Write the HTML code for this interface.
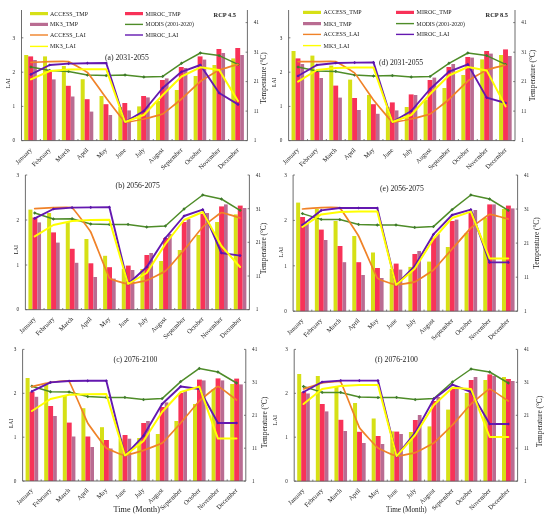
<!DOCTYPE html>
<html><head><meta charset="utf-8"><title>LAI and Temperature projections</title>
<style>
html,body{margin:0;padding:0;background:#fff;}
body{width:550px;height:520px;overflow:hidden;}
svg{display:block;font-family:"Liberation Serif",serif;fill:#222;}
.tk{font-size:5.2px;}
.mo{font-size:6.5px;}
.ti{font-size:7.7px;}
.al{font-size:7px;}
.at{font-size:7.3px;}
.lg{font-size:6px;}
.lg2{font-size:5.7px;}
.rcp{font-size:6.4px;font-weight:bold;}
.tm{font-size:8.2px;}
</style></head><body>
<svg width="550" height="520" viewBox="0 0 550 520">
<rect width="550" height="520" fill="#fff"/>
<g><rect x="24.21" y="55" width="4" height="85.6" fill="#d6e016"/>
<rect x="28.21" y="56.4" width="4.9" height="84.2" fill="#f83258"/>
<rect x="33.11" y="60" width="3.7" height="80.6" fill="#b96c92"/>
<rect x="43.04" y="56.4" width="4" height="84.2" fill="#d6e016"/>
<rect x="47.04" y="70" width="4.9" height="70.6" fill="#f83258"/>
<rect x="51.94" y="79.4" width="3.7" height="61.2" fill="#b96c92"/>
<rect x="61.86" y="66" width="4" height="74.6" fill="#d6e016"/>
<rect x="65.86" y="85.8" width="4.9" height="54.8" fill="#f83258"/>
<rect x="70.76" y="96.5" width="3.7" height="44.1" fill="#b96c92"/>
<rect x="80.69" y="79.2" width="4" height="61.4" fill="#d6e016"/>
<rect x="84.69" y="99.2" width="4.9" height="41.4" fill="#f83258"/>
<rect x="89.59" y="111.6" width="3.7" height="29" fill="#b96c92"/>
<rect x="99.51" y="96" width="4" height="44.6" fill="#d6e016"/>
<rect x="103.51" y="104.2" width="4.9" height="36.4" fill="#f83258"/>
<rect x="108.41" y="115" width="3.7" height="25.6" fill="#b96c92"/>
<rect x="118.34" y="107" width="4" height="33.6" fill="#d6e016"/>
<rect x="122.34" y="103" width="4.9" height="37.6" fill="#f83258"/>
<rect x="127.24" y="110.4" width="3.7" height="30.2" fill="#b96c92"/>
<rect x="137.16" y="106.4" width="4" height="34.2" fill="#d6e016"/>
<rect x="141.16" y="96" width="4.9" height="44.6" fill="#f83258"/>
<rect x="146.06" y="97.4" width="3.7" height="43.2" fill="#b96c92"/>
<rect x="155.99" y="101" width="4" height="39.6" fill="#d6e016"/>
<rect x="159.99" y="80" width="4.9" height="60.6" fill="#f83258"/>
<rect x="164.89" y="78.4" width="3.7" height="62.2" fill="#b96c92"/>
<rect x="174.81" y="90" width="4" height="50.6" fill="#d6e016"/>
<rect x="178.81" y="67" width="4.9" height="73.6" fill="#f83258"/>
<rect x="183.71" y="68" width="3.7" height="72.6" fill="#b96c92"/>
<rect x="193.64" y="76" width="4" height="64.6" fill="#d6e016"/>
<rect x="197.64" y="56.4" width="4.9" height="84.2" fill="#f83258"/>
<rect x="202.54" y="59.6" width="3.7" height="81" fill="#b96c92"/>
<rect x="212.46" y="65" width="4" height="75.6" fill="#d6e016"/>
<rect x="216.46" y="49" width="4.9" height="91.6" fill="#f83258"/>
<rect x="221.36" y="53" width="3.7" height="87.6" fill="#b96c92"/>
<rect x="231.29" y="58.4" width="4" height="82.2" fill="#d6e016"/>
<rect x="235.29" y="48" width="4.9" height="92.6" fill="#f83258"/>
<rect x="240.19" y="55" width="3.7" height="85.6" fill="#b96c92"/>
<path d="M21.5 10 V140.6 H247.4 V10" fill="none" stroke="#5c5c5c" stroke-width="0.9"/>
<path d="M21.5 140.6 h1.8M21.5 106.4 h1.8M21.5 72.2 h1.8M21.5 37.8 h1.8M247.4 140.6 h-1.8M247.4 111.1 h-1.8M247.4 81.6 h-1.8M247.4 52.2 h-1.8M247.4 22.6 h-1.8M40.33 140.6 v-1.6M59.15 140.6 v-1.6M77.97 140.6 v-1.6M96.8 140.6 v-1.6M115.62 140.6 v-1.6M134.45 140.6 v-1.6M153.28 140.6 v-1.6M172.1 140.6 v-1.6M190.92 140.6 v-1.6M209.75 140.6 v-1.6M228.57 140.6 v-1.6" fill="none" stroke="#5c5c5c" stroke-width="0.8"/>
<path d="M30.91 67 L49.74 70.4 L68.56 71.4 L87.39 75 L106.21 75.6 L125.04 75 L143.86 77 L162.69 76.4 L181.51 63.3 L200.34 53 L219.16 55.6 L237.99 64.4" fill="none" stroke="#4e8c28" stroke-width="1.5" stroke-linejoin="round" stroke-linecap="round"/>
<path d="M29.21 67 l1.7 -1.7 l1.7 1.7 l-1.7 1.7 zM48.04 70.4 l1.7 -1.7 l1.7 1.7 l-1.7 1.7 zM66.86 71.4 l1.7 -1.7 l1.7 1.7 l-1.7 1.7 zM85.69 75 l1.7 -1.7 l1.7 1.7 l-1.7 1.7 zM104.51 75.6 l1.7 -1.7 l1.7 1.7 l-1.7 1.7 zM123.34 75 l1.7 -1.7 l1.7 1.7 l-1.7 1.7 zM142.16 77 l1.7 -1.7 l1.7 1.7 l-1.7 1.7 zM160.99 76.4 l1.7 -1.7 l1.7 1.7 l-1.7 1.7 zM179.81 63.3 l1.7 -1.7 l1.7 1.7 l-1.7 1.7 zM198.64 53 l1.7 -1.7 l1.7 1.7 l-1.7 1.7 zM217.46 55.6 l1.7 -1.7 l1.7 1.7 l-1.7 1.7 zM236.29 64.4 l1.7 -1.7 l1.7 1.7 l-1.7 1.7 z" fill="#3f7a2c"/>
<path d="M30.91 62.4 C31.54 62.37 48.48 61.63 49.74 61.6 C50.99 61.57 67.31 61.24 68.56 61.6 C69.82 61.96 86.13 71.19 87.39 72.4 C88.64 73.61 104.96 96.35 106.21 98 C107.47 99.65 123.78 121.3 125.04 122 C126.29 122.7 142.61 119.27 143.86 119 C145.12 118.73 161.43 114.67 162.69 114 C163.94 113.33 180.26 100.08 181.51 99 C182.77 97.92 199.08 82.47 200.34 81.5 C201.59 80.53 217.91 70.57 219.16 70 C220.42 69.43 237.36 64.59 237.99 64.4" fill="none" stroke="#f08228" stroke-width="1.7" stroke-linejoin="round" stroke-linecap="round"/>
<path d="M30.91 74.4 L49.74 65 L68.56 63.6 L87.39 63.2 L106.21 63 L125.04 122 L143.86 111 L162.69 88 L181.51 71.8 L200.34 65 L219.16 93 L237.99 104.4" fill="none" stroke="#6418b0" stroke-width="1.9" stroke-linejoin="round" stroke-linecap="round"/>
<path d="M29.31 74.4 l1.6 -1.6 l1.6 1.6 l-1.6 1.6 zM48.14 65 l1.6 -1.6 l1.6 1.6 l-1.6 1.6 zM66.96 63.6 l1.6 -1.6 l1.6 1.6 l-1.6 1.6 zM85.79 63.2 l1.6 -1.6 l1.6 1.6 l-1.6 1.6 zM104.61 63 l1.6 -1.6 l1.6 1.6 l-1.6 1.6 zM123.44 122 l1.6 -1.6 l1.6 1.6 l-1.6 1.6 zM142.26 111 l1.6 -1.6 l1.6 1.6 l-1.6 1.6 zM161.09 88 l1.6 -1.6 l1.6 1.6 l-1.6 1.6 zM179.91 71.8 l1.6 -1.6 l1.6 1.6 l-1.6 1.6 zM198.74 65 l1.6 -1.6 l1.6 1.6 l-1.6 1.6 zM217.56 93 l1.6 -1.6 l1.6 1.6 l-1.6 1.6 zM236.39 104.4 l1.6 -1.6 l1.6 1.6 l-1.6 1.6 z" fill="#5a14a8"/>
<path d="M30.91 79.4 L49.74 71 L68.56 69.6 L87.39 69.2 L106.21 69.2 L125.04 122 L143.86 115 L162.69 95 L181.51 76.5 L200.34 67.3 L219.16 70 L237.99 101" fill="none" stroke="#ffff00" stroke-width="2.0" stroke-linejoin="round" stroke-linecap="round"/>
<text x="15.2" y="142.4" text-anchor="end" class="tk">0</text>
<text x="15.2" y="108.2" text-anchor="end" class="tk">1</text>
<text x="15.2" y="74" text-anchor="end" class="tk">2</text>
<text x="15.2" y="39.6" text-anchor="end" class="tk">3</text>
<text x="253.7" y="142.4" class="tk">1</text>
<text x="253.7" y="112.9" class="tk">11</text>
<text x="253.7" y="83.4" class="tk">21</text>
<text x="253.7" y="54" class="tk">31</text>
<text x="253.7" y="24.4" class="tk">41</text>
<text transform="translate(32.31 150.4) rotate(-45)" text-anchor="end" class="mo">January</text>
<text transform="translate(51.14 150.4) rotate(-45)" text-anchor="end" class="mo">February</text>
<text transform="translate(69.96 150.4) rotate(-45)" text-anchor="end" class="mo">March</text>
<text transform="translate(88.79 150.4) rotate(-45)" text-anchor="end" class="mo">April</text>
<text transform="translate(107.61 150.4) rotate(-45)" text-anchor="end" class="mo">May</text>
<text transform="translate(126.44 150.4) rotate(-45)" text-anchor="end" class="mo">June</text>
<text transform="translate(145.26 150.4) rotate(-45)" text-anchor="end" class="mo">July</text>
<text transform="translate(164.09 150.4) rotate(-45)" text-anchor="end" class="mo">August</text>
<text transform="translate(182.91 150.4) rotate(-45)" text-anchor="end" class="mo">September</text>
<text transform="translate(201.74 150.4) rotate(-45)" text-anchor="end" class="mo">October</text>
<text transform="translate(220.56 150.4) rotate(-45)" text-anchor="end" class="mo">November</text>
<text transform="translate(239.39 150.4) rotate(-45)" text-anchor="end" class="mo">December</text>
<text x="105" y="60.2" class="ti">(a) 2031-2055</text>
<text transform="translate(10.28 83.3) rotate(-90)" text-anchor="middle" class="al" style="font-size:6.3px">LAI</text>
<text transform="translate(265.7 78) rotate(-90)" text-anchor="middle" class="at">Temperature (°C)</text></g>
<g><rect x="291.53" y="51" width="4" height="89.6" fill="#d6e016"/>
<rect x="295.53" y="58.4" width="4.9" height="82.2" fill="#f83258"/>
<rect x="300.43" y="64" width="3.7" height="76.6" fill="#b96c92"/>
<rect x="310.4" y="55.6" width="4" height="85" fill="#d6e016"/>
<rect x="314.4" y="72" width="4.9" height="68.6" fill="#f83258"/>
<rect x="319.3" y="78" width="3.7" height="62.6" fill="#b96c92"/>
<rect x="329.27" y="65.6" width="4" height="75" fill="#d6e016"/>
<rect x="333.27" y="85.6" width="4.9" height="55" fill="#f83258"/>
<rect x="338.17" y="97.6" width="3.7" height="43" fill="#b96c92"/>
<rect x="348.13" y="79.6" width="4" height="61" fill="#d6e016"/>
<rect x="352.13" y="98" width="4.9" height="42.6" fill="#f83258"/>
<rect x="357.03" y="110" width="3.7" height="30.6" fill="#b96c92"/>
<rect x="367" y="95" width="4" height="45.6" fill="#d6e016"/>
<rect x="371" y="104.2" width="4.9" height="36.4" fill="#f83258"/>
<rect x="375.9" y="113.8" width="3.7" height="26.8" fill="#b96c92"/>
<rect x="385.87" y="107.3" width="4" height="33.3" fill="#d6e016"/>
<rect x="389.87" y="102.4" width="4.9" height="38.2" fill="#f83258"/>
<rect x="394.77" y="110.4" width="3.7" height="30.2" fill="#b96c92"/>
<rect x="404.73" y="107" width="4" height="33.6" fill="#d6e016"/>
<rect x="408.73" y="94.4" width="4.9" height="46.2" fill="#f83258"/>
<rect x="413.63" y="95" width="3.7" height="45.6" fill="#b96c92"/>
<rect x="423.6" y="100" width="4" height="40.6" fill="#d6e016"/>
<rect x="427.6" y="80" width="4.9" height="60.6" fill="#f83258"/>
<rect x="432.5" y="77.6" width="3.7" height="63" fill="#b96c92"/>
<rect x="442.47" y="88" width="4" height="52.6" fill="#d6e016"/>
<rect x="446.47" y="67" width="4.9" height="73.6" fill="#f83258"/>
<rect x="451.37" y="64" width="3.7" height="76.6" fill="#b96c92"/>
<rect x="461.33" y="75" width="4" height="65.6" fill="#d6e016"/>
<rect x="465.33" y="57" width="4.9" height="83.6" fill="#f83258"/>
<rect x="470.23" y="57.6" width="3.7" height="83" fill="#b96c92"/>
<rect x="480.2" y="59.4" width="4" height="81.2" fill="#d6e016"/>
<rect x="484.2" y="51" width="4.9" height="89.6" fill="#f83258"/>
<rect x="489.1" y="53.6" width="3.7" height="87" fill="#b96c92"/>
<rect x="499.07" y="55" width="4" height="85.6" fill="#d6e016"/>
<rect x="503.07" y="49.4" width="4.9" height="91.2" fill="#f83258"/>
<rect x="507.97" y="56" width="3.7" height="84.6" fill="#b96c92"/>
<path d="M288.6 10 V140.6 H515 V10" fill="none" stroke="#5c5c5c" stroke-width="0.9"/>
<path d="M288.6 140.6 h1.8M288.6 106.4 h1.8M288.6 72.2 h1.8M288.6 37.8 h1.8M515 140.6 h-1.8M515 111.1 h-1.8M515 81.6 h-1.8M515 52.2 h-1.8M515 22.6 h-1.8M307.47 140.6 v-1.6M326.33 140.6 v-1.6M345.2 140.6 v-1.6M364.07 140.6 v-1.6M382.93 140.6 v-1.6M401.8 140.6 v-1.6M420.67 140.6 v-1.6M439.53 140.6 v-1.6M458.4 140.6 v-1.6M477.27 140.6 v-1.6M496.13 140.6 v-1.6" fill="none" stroke="#5c5c5c" stroke-width="0.8"/>
<path d="M298.03 67 L316.9 71 L335.77 71.4 L354.63 75 L373.5 76 L392.37 75.6 L411.23 77 L430.1 76.4 L448.97 63.3 L467.83 53 L486.7 55.6 L505.57 64.4" fill="none" stroke="#4e8c28" stroke-width="1.5" stroke-linejoin="round" stroke-linecap="round"/>
<path d="M296.33 67 l1.7 -1.7 l1.7 1.7 l-1.7 1.7 zM315.2 71 l1.7 -1.7 l1.7 1.7 l-1.7 1.7 zM334.07 71.4 l1.7 -1.7 l1.7 1.7 l-1.7 1.7 zM352.93 75 l1.7 -1.7 l1.7 1.7 l-1.7 1.7 zM371.8 76 l1.7 -1.7 l1.7 1.7 l-1.7 1.7 zM390.67 75.6 l1.7 -1.7 l1.7 1.7 l-1.7 1.7 zM409.53 77 l1.7 -1.7 l1.7 1.7 l-1.7 1.7 zM428.4 76.4 l1.7 -1.7 l1.7 1.7 l-1.7 1.7 zM447.27 63.3 l1.7 -1.7 l1.7 1.7 l-1.7 1.7 zM466.13 53 l1.7 -1.7 l1.7 1.7 l-1.7 1.7 zM485 55.6 l1.7 -1.7 l1.7 1.7 l-1.7 1.7 zM503.87 64.4 l1.7 -1.7 l1.7 1.7 l-1.7 1.7 z" fill="#3f7a2c"/>
<path d="M298.03 61.6 C298.66 61.6 315.64 61.6 316.9 61.6 C318.16 61.6 334.51 61.22 335.77 61.6 C337.02 61.98 353.38 71.72 354.63 73 C355.89 74.28 372.24 98.37 373.5 100 C374.76 101.63 391.11 121.37 392.37 122 C393.62 122.63 409.98 119.27 411.23 119 C412.49 118.73 428.84 114.65 430.1 114 C431.36 113.35 447.71 100.6 448.97 99.5 C450.22 98.4 466.58 81.98 467.83 81 C469.09 80.02 485.44 70.53 486.7 70 C487.96 69.47 504.94 65.17 505.57 65" fill="none" stroke="#f08228" stroke-width="1.7" stroke-linejoin="round" stroke-linecap="round"/>
<path d="M298.03 76 L316.9 65 L335.77 63 L354.63 62.6 L373.5 62.4 L392.37 122 L411.23 111 L430.1 89 L448.97 71.6 L467.83 64.4 L486.7 97.6 L505.57 103" fill="none" stroke="#6418b0" stroke-width="1.9" stroke-linejoin="round" stroke-linecap="round"/>
<path d="M296.43 76 l1.6 -1.6 l1.6 1.6 l-1.6 1.6 zM315.3 65 l1.6 -1.6 l1.6 1.6 l-1.6 1.6 zM334.17 63 l1.6 -1.6 l1.6 1.6 l-1.6 1.6 zM353.03 62.6 l1.6 -1.6 l1.6 1.6 l-1.6 1.6 zM371.9 62.4 l1.6 -1.6 l1.6 1.6 l-1.6 1.6 zM390.77 122 l1.6 -1.6 l1.6 1.6 l-1.6 1.6 zM409.63 111 l1.6 -1.6 l1.6 1.6 l-1.6 1.6 zM428.5 89 l1.6 -1.6 l1.6 1.6 l-1.6 1.6 zM447.37 71.6 l1.6 -1.6 l1.6 1.6 l-1.6 1.6 zM466.23 64.4 l1.6 -1.6 l1.6 1.6 l-1.6 1.6 zM485.1 97.6 l1.6 -1.6 l1.6 1.6 l-1.6 1.6 zM503.97 103 l1.6 -1.6 l1.6 1.6 l-1.6 1.6 z" fill="#5a14a8"/>
<path d="M298.03 81.6 L316.9 70 L335.77 68 L354.63 67.6 L373.5 67.6 L392.37 122 L411.23 115 L430.1 94 L448.97 75.5 L467.83 67 L486.7 70.4 L505.57 106.4" fill="none" stroke="#ffff00" stroke-width="2.0" stroke-linejoin="round" stroke-linecap="round"/>
<text x="282.3" y="142.4" text-anchor="end" class="tk">0</text>
<text x="282.3" y="108.2" text-anchor="end" class="tk">1</text>
<text x="282.3" y="74" text-anchor="end" class="tk">2</text>
<text x="282.3" y="39.6" text-anchor="end" class="tk">3</text>
<text x="521.3" y="142.4" class="tk">1</text>
<text x="521.3" y="112.9" class="tk">11</text>
<text x="521.3" y="83.4" class="tk">21</text>
<text x="521.3" y="54" class="tk">31</text>
<text x="521.3" y="24.4" class="tk">41</text>
<text transform="translate(299.43 150.4) rotate(-45)" text-anchor="end" class="mo">January</text>
<text transform="translate(318.3 150.4) rotate(-45)" text-anchor="end" class="mo">February</text>
<text transform="translate(337.17 150.4) rotate(-45)" text-anchor="end" class="mo">March</text>
<text transform="translate(356.03 150.4) rotate(-45)" text-anchor="end" class="mo">April</text>
<text transform="translate(374.9 150.4) rotate(-45)" text-anchor="end" class="mo">May</text>
<text transform="translate(393.77 150.4) rotate(-45)" text-anchor="end" class="mo">June</text>
<text transform="translate(412.63 150.4) rotate(-45)" text-anchor="end" class="mo">July</text>
<text transform="translate(431.5 150.4) rotate(-45)" text-anchor="end" class="mo">August</text>
<text transform="translate(450.37 150.4) rotate(-45)" text-anchor="end" class="mo">September</text>
<text transform="translate(469.23 150.4) rotate(-45)" text-anchor="end" class="mo">October</text>
<text transform="translate(488.1 150.4) rotate(-45)" text-anchor="end" class="mo">November</text>
<text transform="translate(506.97 150.4) rotate(-45)" text-anchor="end" class="mo">December</text>
<text x="379" y="65" class="ti">(d) 2031-2055</text>
<text transform="translate(276.01 82.4) rotate(-90)" text-anchor="middle" class="al" style="font-size:5.5px">LAI</text>
<text transform="translate(535.3 75.5) rotate(-90)" text-anchor="middle" class="at">Temperature (°C)</text></g>
<g><rect x="28.43" y="209.6" width="4" height="100.1" fill="#d6e016"/>
<rect x="32.43" y="217.5" width="4.9" height="92.2" fill="#f83258"/>
<rect x="37.33" y="222.4" width="3.7" height="87.3" fill="#b96c92"/>
<rect x="47.1" y="213" width="4" height="96.7" fill="#d6e016"/>
<rect x="51.1" y="232.4" width="4.9" height="77.3" fill="#f83258"/>
<rect x="56" y="242.6" width="3.7" height="67.1" fill="#b96c92"/>
<rect x="65.77" y="222" width="4" height="87.7" fill="#d6e016"/>
<rect x="69.77" y="248.8" width="4.9" height="60.9" fill="#f83258"/>
<rect x="74.67" y="262.8" width="3.7" height="46.9" fill="#b96c92"/>
<rect x="84.43" y="239" width="4" height="70.7" fill="#d6e016"/>
<rect x="88.43" y="263.3" width="4.9" height="46.4" fill="#f83258"/>
<rect x="93.33" y="277" width="3.7" height="32.7" fill="#b96c92"/>
<rect x="103.1" y="255.8" width="4" height="53.9" fill="#d6e016"/>
<rect x="107.1" y="267.2" width="4.9" height="42.5" fill="#f83258"/>
<rect x="112" y="278.6" width="3.7" height="31.1" fill="#b96c92"/>
<rect x="121.77" y="268.8" width="4" height="40.9" fill="#d6e016"/>
<rect x="125.77" y="265.6" width="4.9" height="44.1" fill="#f83258"/>
<rect x="130.67" y="270" width="3.7" height="39.7" fill="#b96c92"/>
<rect x="140.43" y="269" width="4" height="40.7" fill="#d6e016"/>
<rect x="144.43" y="255" width="4.9" height="54.7" fill="#f83258"/>
<rect x="149.33" y="253" width="3.7" height="56.7" fill="#b96c92"/>
<rect x="159.1" y="261" width="4" height="48.7" fill="#d6e016"/>
<rect x="163.1" y="238" width="4.9" height="71.7" fill="#f83258"/>
<rect x="168" y="234" width="3.7" height="75.7" fill="#b96c92"/>
<rect x="177.77" y="250" width="4" height="59.7" fill="#d6e016"/>
<rect x="181.77" y="222" width="4.9" height="87.7" fill="#f83258"/>
<rect x="186.67" y="219" width="3.7" height="90.7" fill="#b96c92"/>
<rect x="196.43" y="235" width="4" height="74.7" fill="#d6e016"/>
<rect x="200.43" y="214" width="4.9" height="95.7" fill="#f83258"/>
<rect x="205.33" y="213" width="3.7" height="96.7" fill="#b96c92"/>
<rect x="215.1" y="222" width="4" height="87.7" fill="#d6e016"/>
<rect x="219.1" y="206.4" width="4.9" height="103.3" fill="#f83258"/>
<rect x="224" y="204.4" width="3.7" height="105.3" fill="#b96c92"/>
<rect x="233.77" y="214.4" width="4" height="95.3" fill="#d6e016"/>
<rect x="237.77" y="205.6" width="4.9" height="104.1" fill="#f83258"/>
<rect x="242.67" y="208" width="3.7" height="101.7" fill="#b96c92"/>
<path d="M25.4 175 V309.7 H249.4 V175" fill="none" stroke="#5c5c5c" stroke-width="0.9"/>
<path d="M25.4 309.6 h1.8M25.4 265 h1.8M25.4 220 h1.8M25.4 175 h1.8M249.4 309.6 h-1.8M249.4 276 h-1.8M249.4 242.3 h-1.8M249.4 208.7 h-1.8M249.4 175 h-1.8M44.07 309.7 v-1.6M62.73 309.7 v-1.6M81.4 309.7 v-1.6M100.07 309.7 v-1.6M118.73 309.7 v-1.6M137.4 309.7 v-1.6M156.07 309.7 v-1.6M174.73 309.7 v-1.6M193.4 309.7 v-1.6M212.07 309.7 v-1.6M230.73 309.7 v-1.6" fill="none" stroke="#5c5c5c" stroke-width="0.8"/>
<path d="M34.73 213 L53.4 219 L72.07 218.8 L90.73 224 L109.4 224.4 L128.07 224.4 L146.73 227 L165.4 226 L184.07 209 L202.73 195 L221.4 199 L240.07 210.4" fill="none" stroke="#4e8c28" stroke-width="1.5" stroke-linejoin="round" stroke-linecap="round"/>
<path d="M33.03 213 l1.7 -1.7 l1.7 1.7 l-1.7 1.7 zM51.7 219 l1.7 -1.7 l1.7 1.7 l-1.7 1.7 zM70.37 218.8 l1.7 -1.7 l1.7 1.7 l-1.7 1.7 zM89.03 224 l1.7 -1.7 l1.7 1.7 l-1.7 1.7 zM107.7 224.4 l1.7 -1.7 l1.7 1.7 l-1.7 1.7 zM126.37 224.4 l1.7 -1.7 l1.7 1.7 l-1.7 1.7 zM145.03 227 l1.7 -1.7 l1.7 1.7 l-1.7 1.7 zM163.7 226 l1.7 -1.7 l1.7 1.7 l-1.7 1.7 zM182.37 209 l1.7 -1.7 l1.7 1.7 l-1.7 1.7 zM201.03 195 l1.7 -1.7 l1.7 1.7 l-1.7 1.7 zM219.7 199 l1.7 -1.7 l1.7 1.7 l-1.7 1.7 zM238.37 210.4 l1.7 -1.7 l1.7 1.7 l-1.7 1.7 z" fill="#3f7a2c"/>
<path d="M34.73 208.6 C35.36 208.57 52.16 207.63 53.4 207.6 C54.64 207.57 70.82 206.79 72.07 207.6 C73.31 208.41 89.49 229.65 90.73 232 C91.98 234.35 108.16 276.27 109.4 278 C110.64 279.73 126.82 283.92 128.07 284 C129.31 284.08 145.49 280.83 146.73 280.4 C147.98 279.97 164.16 272.01 165.4 271 C166.64 269.99 182.82 251.47 184.07 250 C185.31 248.53 201.49 228.25 202.73 227 C203.98 225.75 220.16 212.9 221.4 212.6 C222.64 212.3 239.44 217.82 240.07 218" fill="none" stroke="#f08228" stroke-width="1.7" stroke-linejoin="round" stroke-linecap="round"/>
<path d="M34.73 218.4 L53.4 209 L72.07 207.6 L90.73 207.4 L109.4 207.2 L128.07 284 L146.73 267 L165.4 238 L184.07 216 L202.73 209.6 L221.4 253 L240.07 255.6" fill="none" stroke="#6418b0" stroke-width="1.9" stroke-linejoin="round" stroke-linecap="round"/>
<path d="M33.13 218.4 l1.6 -1.6 l1.6 1.6 l-1.6 1.6 zM51.8 209 l1.6 -1.6 l1.6 1.6 l-1.6 1.6 zM70.47 207.6 l1.6 -1.6 l1.6 1.6 l-1.6 1.6 zM89.13 207.4 l1.6 -1.6 l1.6 1.6 l-1.6 1.6 zM107.8 207.2 l1.6 -1.6 l1.6 1.6 l-1.6 1.6 zM126.47 284 l1.6 -1.6 l1.6 1.6 l-1.6 1.6 zM145.13 267 l1.6 -1.6 l1.6 1.6 l-1.6 1.6 zM163.8 238 l1.6 -1.6 l1.6 1.6 l-1.6 1.6 zM182.47 216 l1.6 -1.6 l1.6 1.6 l-1.6 1.6 zM201.13 209.6 l1.6 -1.6 l1.6 1.6 l-1.6 1.6 zM219.8 253 l1.6 -1.6 l1.6 1.6 l-1.6 1.6 zM238.47 255.6 l1.6 -1.6 l1.6 1.6 l-1.6 1.6 z" fill="#5a14a8"/>
<path d="M34.73 236.4 L53.4 225 L72.07 221 L90.73 220 L109.4 219.8 L128.07 284 L146.73 273 L165.4 244 L184.07 220 L202.73 212 L221.4 246 L240.07 267" fill="none" stroke="#ffff00" stroke-width="2.0" stroke-linejoin="round" stroke-linecap="round"/>
<text x="19.1" y="311.4" text-anchor="end" class="tk">0</text>
<text x="19.1" y="266.8" text-anchor="end" class="tk">1</text>
<text x="19.1" y="221.8" text-anchor="end" class="tk">2</text>
<text x="19.1" y="176.8" text-anchor="end" class="tk">3</text>
<text x="255.7" y="311.4" class="tk">1</text>
<text x="255.7" y="277.8" class="tk">11</text>
<text x="255.7" y="244.1" class="tk">21</text>
<text x="255.7" y="210.5" class="tk">31</text>
<text x="255.7" y="176.8" class="tk">41</text>
<text transform="translate(36.13 319.5) rotate(-45)" text-anchor="end" class="mo">January</text>
<text transform="translate(54.8 319.5) rotate(-45)" text-anchor="end" class="mo">February</text>
<text transform="translate(73.47 319.5) rotate(-45)" text-anchor="end" class="mo">March</text>
<text transform="translate(92.13 319.5) rotate(-45)" text-anchor="end" class="mo">April</text>
<text transform="translate(110.8 319.5) rotate(-45)" text-anchor="end" class="mo">May</text>
<text transform="translate(129.47 319.5) rotate(-45)" text-anchor="end" class="mo">June</text>
<text transform="translate(148.13 319.5) rotate(-45)" text-anchor="end" class="mo">July</text>
<text transform="translate(166.8 319.5) rotate(-45)" text-anchor="end" class="mo">August</text>
<text transform="translate(185.47 319.5) rotate(-45)" text-anchor="end" class="mo">September</text>
<text transform="translate(204.13 319.5) rotate(-45)" text-anchor="end" class="mo">October</text>
<text transform="translate(222.8 319.5) rotate(-45)" text-anchor="end" class="mo">November</text>
<text transform="translate(241.47 319.5) rotate(-45)" text-anchor="end" class="mo">December</text>
<text x="115.6" y="188" class="ti">(b) 2056-2075</text>
<text transform="translate(18.32 249.7) rotate(-90)" text-anchor="middle" class="al" style="font-size:5.5px">LAI</text>
<text transform="translate(265.7 248.5) rotate(-90)" text-anchor="middle" class="at">Temperature (°C)</text></g>
<g><rect x="296.15" y="202.6" width="4" height="108.6" fill="#d6e016"/>
<rect x="300.15" y="217" width="4.9" height="94.2" fill="#f83258"/>
<rect x="305.05" y="223" width="3.7" height="88.2" fill="#b96c92"/>
<rect x="314.86" y="209" width="4" height="102.2" fill="#d6e016"/>
<rect x="318.86" y="229.6" width="4.9" height="81.6" fill="#f83258"/>
<rect x="323.76" y="240" width="3.7" height="71.2" fill="#b96c92"/>
<rect x="333.57" y="221" width="4" height="90.2" fill="#d6e016"/>
<rect x="337.57" y="246" width="4.9" height="65.2" fill="#f83258"/>
<rect x="342.47" y="262.2" width="3.7" height="49" fill="#b96c92"/>
<rect x="352.28" y="236" width="4" height="75.2" fill="#d6e016"/>
<rect x="356.28" y="262.2" width="4.9" height="49" fill="#f83258"/>
<rect x="361.18" y="275" width="3.7" height="36.2" fill="#b96c92"/>
<rect x="370.99" y="252.5" width="4" height="58.7" fill="#d6e016"/>
<rect x="374.99" y="268" width="4.9" height="43.2" fill="#f83258"/>
<rect x="379.89" y="278" width="3.7" height="33.2" fill="#b96c92"/>
<rect x="389.7" y="268.8" width="4" height="42.4" fill="#d6e016"/>
<rect x="393.7" y="263.6" width="4.9" height="47.6" fill="#f83258"/>
<rect x="398.6" y="269.6" width="3.7" height="41.6" fill="#b96c92"/>
<rect x="408.4" y="266.9" width="4" height="44.3" fill="#d6e016"/>
<rect x="412.4" y="254" width="4.9" height="57.2" fill="#f83258"/>
<rect x="417.3" y="251" width="3.7" height="60.2" fill="#b96c92"/>
<rect x="427.11" y="261.6" width="4" height="49.6" fill="#d6e016"/>
<rect x="431.11" y="238" width="4.9" height="73.2" fill="#f83258"/>
<rect x="436.01" y="234" width="3.7" height="77.2" fill="#b96c92"/>
<rect x="445.82" y="247" width="4" height="64.2" fill="#d6e016"/>
<rect x="449.82" y="221" width="4.9" height="90.2" fill="#f83258"/>
<rect x="454.72" y="219.6" width="3.7" height="91.6" fill="#b96c92"/>
<rect x="464.53" y="233" width="4" height="78.2" fill="#d6e016"/>
<rect x="468.53" y="213" width="4.9" height="98.2" fill="#f83258"/>
<rect x="473.43" y="210" width="3.7" height="101.2" fill="#b96c92"/>
<rect x="483.24" y="218" width="4" height="93.2" fill="#d6e016"/>
<rect x="487.24" y="204.4" width="4.9" height="106.8" fill="#f83258"/>
<rect x="492.14" y="204.4" width="3.7" height="106.8" fill="#b96c92"/>
<rect x="501.95" y="209" width="4" height="102.2" fill="#d6e016"/>
<rect x="505.95" y="205.6" width="4.9" height="105.6" fill="#f83258"/>
<rect x="510.85" y="208.4" width="3.7" height="102.8" fill="#b96c92"/>
<path d="M293.1 175 V311.2 H517.6 V175" fill="none" stroke="#5c5c5c" stroke-width="0.9"/>
<path d="M293.1 311.2 h1.8M293.1 265.8 h1.8M293.1 220.4 h1.8M293.1 175 h1.8M517.6 311.2 h-1.8M517.6 277.2 h-1.8M517.6 243.1 h-1.8M517.6 209.05 h-1.8M517.6 175 h-1.8M311.81 311.2 v-1.6M330.52 311.2 v-1.6M349.23 311.2 v-1.6M367.93 311.2 v-1.6M386.64 311.2 v-1.6M405.35 311.2 v-1.6M424.06 311.2 v-1.6M442.77 311.2 v-1.6M461.48 311.2 v-1.6M480.18 311.2 v-1.6M498.89 311.2 v-1.6" fill="none" stroke="#5c5c5c" stroke-width="0.8"/>
<path d="M302.45 213.6 L321.16 219.4 L339.87 219.6 L358.58 224.4 L377.29 225 L396 225 L414.7 227.4 L433.41 226.6 L452.12 209.6 L470.83 195 L489.54 199 L508.25 210.4" fill="none" stroke="#4e8c28" stroke-width="1.5" stroke-linejoin="round" stroke-linecap="round"/>
<path d="M300.75 213.6 l1.7 -1.7 l1.7 1.7 l-1.7 1.7 zM319.46 219.4 l1.7 -1.7 l1.7 1.7 l-1.7 1.7 zM338.17 219.6 l1.7 -1.7 l1.7 1.7 l-1.7 1.7 zM356.88 224.4 l1.7 -1.7 l1.7 1.7 l-1.7 1.7 zM375.59 225 l1.7 -1.7 l1.7 1.7 l-1.7 1.7 zM394.3 225 l1.7 -1.7 l1.7 1.7 l-1.7 1.7 zM413 227.4 l1.7 -1.7 l1.7 1.7 l-1.7 1.7 zM431.71 226.6 l1.7 -1.7 l1.7 1.7 l-1.7 1.7 zM450.42 209.6 l1.7 -1.7 l1.7 1.7 l-1.7 1.7 zM469.13 195 l1.7 -1.7 l1.7 1.7 l-1.7 1.7 zM487.84 199 l1.7 -1.7 l1.7 1.7 l-1.7 1.7 zM506.55 210.4 l1.7 -1.7 l1.7 1.7 l-1.7 1.7 z" fill="#3f7a2c"/>
<path d="M302.45 209 C303.08 208.95 319.92 207.63 321.16 207.6 C322.41 207.57 338.62 207.05 339.87 208 C341.12 208.95 357.33 233.67 358.58 236 C359.83 238.33 376.04 276.37 377.29 278 C378.53 279.63 394.75 284.87 396 285 C397.24 285.13 413.46 282.4 414.7 281.9 C415.95 281.4 432.17 271.1 433.41 270 C434.66 268.9 450.87 250.4 452.12 249 C453.37 247.6 469.58 229.15 470.83 228 C472.08 226.85 488.29 214.7 489.54 214.4 C490.78 214.1 507.62 218.85 508.25 219" fill="none" stroke="#f08228" stroke-width="1.7" stroke-linejoin="round" stroke-linecap="round"/>
<path d="M302.45 225 L321.16 210.4 L339.87 208 L358.58 208 L377.29 208 L396 285 L414.7 266.2 L433.41 234.4 L452.12 215 L470.83 209.6 L489.54 262.4 L508.25 262.4" fill="none" stroke="#6418b0" stroke-width="1.9" stroke-linejoin="round" stroke-linecap="round"/>
<path d="M300.85 225 l1.6 -1.6 l1.6 1.6 l-1.6 1.6 zM319.56 210.4 l1.6 -1.6 l1.6 1.6 l-1.6 1.6 zM338.27 208 l1.6 -1.6 l1.6 1.6 l-1.6 1.6 zM356.98 208 l1.6 -1.6 l1.6 1.6 l-1.6 1.6 zM375.69 208 l1.6 -1.6 l1.6 1.6 l-1.6 1.6 zM394.4 285 l1.6 -1.6 l1.6 1.6 l-1.6 1.6 zM413.1 266.2 l1.6 -1.6 l1.6 1.6 l-1.6 1.6 zM431.81 234.4 l1.6 -1.6 l1.6 1.6 l-1.6 1.6 zM450.52 215 l1.6 -1.6 l1.6 1.6 l-1.6 1.6 zM469.23 209.6 l1.6 -1.6 l1.6 1.6 l-1.6 1.6 zM487.94 262.4 l1.6 -1.6 l1.6 1.6 l-1.6 1.6 zM506.65 262.4 l1.6 -1.6 l1.6 1.6 l-1.6 1.6 z" fill="#5a14a8"/>
<path d="M302.45 227 L321.16 214.4 L339.87 212 L358.58 211.6 L377.29 211.6 L396 285 L414.7 268.8 L433.41 239 L452.12 218 L470.83 211.6 L489.54 258.4 L508.25 258.4" fill="none" stroke="#ffff00" stroke-width="2.0" stroke-linejoin="round" stroke-linecap="round"/>
<text x="286.8" y="313" text-anchor="end" class="tk">0</text>
<text x="286.8" y="267.6" text-anchor="end" class="tk">1</text>
<text x="286.8" y="222.2" text-anchor="end" class="tk">2</text>
<text x="286.8" y="176.8" text-anchor="end" class="tk">3</text>
<text x="523.9" y="313" class="tk">1</text>
<text x="523.9" y="279" class="tk">11</text>
<text x="523.9" y="244.9" class="tk">21</text>
<text x="523.9" y="210.85" class="tk">31</text>
<text x="523.9" y="176.8" class="tk">41</text>
<text transform="translate(303.85 321) rotate(-45)" text-anchor="end" class="mo">January</text>
<text transform="translate(322.56 321) rotate(-45)" text-anchor="end" class="mo">February</text>
<text transform="translate(341.27 321) rotate(-45)" text-anchor="end" class="mo">March</text>
<text transform="translate(359.98 321) rotate(-45)" text-anchor="end" class="mo">April</text>
<text transform="translate(378.69 321) rotate(-45)" text-anchor="end" class="mo">May</text>
<text transform="translate(397.4 321) rotate(-45)" text-anchor="end" class="mo">June</text>
<text transform="translate(416.1 321) rotate(-45)" text-anchor="end" class="mo">July</text>
<text transform="translate(434.81 321) rotate(-45)" text-anchor="end" class="mo">August</text>
<text transform="translate(453.52 321) rotate(-45)" text-anchor="end" class="mo">September</text>
<text transform="translate(472.23 321) rotate(-45)" text-anchor="end" class="mo">October</text>
<text transform="translate(490.94 321) rotate(-45)" text-anchor="end" class="mo">November</text>
<text transform="translate(509.65 321) rotate(-45)" text-anchor="end" class="mo">December</text>
<text x="380" y="190.5" class="ti">(e) 2056-2075</text>
<text transform="translate(282.58 252.2) rotate(-90)" text-anchor="middle" class="al" style="font-size:6.3px">LAI</text>
<text transform="translate(539.3 243) rotate(-90)" text-anchor="middle" class="at">Temperature (°C)</text></g>
<g><rect x="25.6" y="378" width="4" height="103" fill="#d6e016"/>
<rect x="29.6" y="392" width="4.9" height="89" fill="#f83258"/>
<rect x="34.5" y="396.8" width="3.7" height="84.2" fill="#b96c92"/>
<rect x="44.2" y="384.2" width="4" height="96.8" fill="#d6e016"/>
<rect x="48.2" y="406" width="4.9" height="75" fill="#f83258"/>
<rect x="53.1" y="416" width="3.7" height="65" fill="#b96c92"/>
<rect x="62.8" y="395" width="4" height="86" fill="#d6e016"/>
<rect x="66.8" y="422.6" width="4.9" height="58.4" fill="#f83258"/>
<rect x="71.7" y="436.5" width="3.7" height="44.5" fill="#b96c92"/>
<rect x="81.4" y="408.2" width="4" height="72.8" fill="#d6e016"/>
<rect x="85.4" y="436.5" width="4.9" height="44.5" fill="#f83258"/>
<rect x="90.3" y="447" width="3.7" height="34" fill="#b96c92"/>
<rect x="100" y="427.2" width="4" height="53.8" fill="#d6e016"/>
<rect x="104" y="440" width="4.9" height="41" fill="#f83258"/>
<rect x="108.9" y="448.5" width="3.7" height="32.5" fill="#b96c92"/>
<rect x="118.6" y="438.7" width="4" height="42.3" fill="#d6e016"/>
<rect x="122.6" y="435" width="4.9" height="46" fill="#f83258"/>
<rect x="127.5" y="438.7" width="3.7" height="42.3" fill="#b96c92"/>
<rect x="137.2" y="438" width="4" height="43" fill="#d6e016"/>
<rect x="141.2" y="423" width="4.9" height="58" fill="#f83258"/>
<rect x="146.1" y="421" width="3.7" height="60" fill="#b96c92"/>
<rect x="155.8" y="434" width="4" height="47" fill="#d6e016"/>
<rect x="159.8" y="407" width="4.9" height="74" fill="#f83258"/>
<rect x="164.7" y="402.4" width="3.7" height="78.6" fill="#b96c92"/>
<rect x="174.4" y="421" width="4" height="60" fill="#d6e016"/>
<rect x="178.4" y="393" width="4.9" height="88" fill="#f83258"/>
<rect x="183.3" y="391" width="3.7" height="90" fill="#b96c92"/>
<rect x="193" y="404" width="4" height="77" fill="#d6e016"/>
<rect x="197" y="379.6" width="4.9" height="101.4" fill="#f83258"/>
<rect x="201.9" y="380.4" width="3.7" height="100.6" fill="#b96c92"/>
<rect x="211.6" y="389" width="4" height="92" fill="#d6e016"/>
<rect x="215.6" y="378.4" width="4.9" height="102.6" fill="#f83258"/>
<rect x="220.5" y="380.4" width="3.7" height="100.6" fill="#b96c92"/>
<rect x="230.2" y="384" width="4" height="97" fill="#d6e016"/>
<rect x="234.2" y="378.6" width="4.9" height="102.4" fill="#f83258"/>
<rect x="239.1" y="384.4" width="3.7" height="96.6" fill="#b96c92"/>
<path d="M22.6 349.4 V481 H245.8 V349.4" fill="none" stroke="#5c5c5c" stroke-width="0.9"/>
<path d="M22.6 481.1 h1.8M22.6 437.2 h1.8M22.6 393.3 h1.8M22.6 349.4 h1.8M245.8 481.1 h-1.8M245.8 448.2 h-1.8M245.8 415.3 h-1.8M245.8 382.3 h-1.8M245.8 349.4 h-1.8M41.2 481 v-1.6M59.8 481 v-1.6M78.4 481 v-1.6M97 481 v-1.6M115.6 481 v-1.6M134.2 481 v-1.6M152.8 481 v-1.6M171.4 481 v-1.6M190 481 v-1.6M208.6 481 v-1.6M227.2 481 v-1.6" fill="none" stroke="#5c5c5c" stroke-width="0.8"/>
<path d="M31.9 386.3 L50.5 391.8 L69.1 392 L87.7 396.5 L106.3 397.4 L124.9 397.4 L143.5 399.6 L162.1 398.6 L180.7 381.6 L199.3 368.4 L217.9 372 L236.5 383" fill="none" stroke="#4e8c28" stroke-width="1.5" stroke-linejoin="round" stroke-linecap="round"/>
<path d="M30.2 386.3 l1.7 -1.7 l1.7 1.7 l-1.7 1.7 zM48.8 391.8 l1.7 -1.7 l1.7 1.7 l-1.7 1.7 zM67.4 392 l1.7 -1.7 l1.7 1.7 l-1.7 1.7 zM86 396.5 l1.7 -1.7 l1.7 1.7 l-1.7 1.7 zM104.6 397.4 l1.7 -1.7 l1.7 1.7 l-1.7 1.7 zM123.2 397.4 l1.7 -1.7 l1.7 1.7 l-1.7 1.7 zM141.8 399.6 l1.7 -1.7 l1.7 1.7 l-1.7 1.7 zM160.4 398.6 l1.7 -1.7 l1.7 1.7 l-1.7 1.7 zM179 381.6 l1.7 -1.7 l1.7 1.7 l-1.7 1.7 zM197.6 368.4 l1.7 -1.7 l1.7 1.7 l-1.7 1.7 zM216.2 372 l1.7 -1.7 l1.7 1.7 l-1.7 1.7 zM234.8 383 l1.7 -1.7 l1.7 1.7 l-1.7 1.7 z" fill="#3f7a2c"/>
<path d="M31.9 386.6 C32.52 386.46 49.26 382.58 50.5 382.4 C51.74 382.22 67.86 379.85 69.1 381.2 C70.34 382.55 86.46 420.77 87.7 423 C88.94 425.23 105.06 446.91 106.3 448 C107.54 449.09 123.66 455.52 124.9 455.6 C126.14 455.68 142.26 450.82 143.5 450.4 C144.74 449.98 160.86 443.91 162.1 443 C163.34 442.09 179.46 424.4 180.7 423 C181.94 421.6 198.06 402.22 199.3 401 C200.54 399.78 216.66 386.43 217.9 386.4 C219.14 386.37 235.88 399.55 236.5 400" fill="none" stroke="#f08228" stroke-width="1.7" stroke-linejoin="round" stroke-linecap="round"/>
<path d="M31.9 391.4 L50.5 382.4 L69.1 381 L87.7 380.8 L106.3 380.8 L124.9 455.6 L143.5 435.8 L162.1 404 L180.7 386.5 L199.3 389 L217.9 423 L236.5 423" fill="none" stroke="#6418b0" stroke-width="1.9" stroke-linejoin="round" stroke-linecap="round"/>
<path d="M30.3 391.4 l1.6 -1.6 l1.6 1.6 l-1.6 1.6 zM48.9 382.4 l1.6 -1.6 l1.6 1.6 l-1.6 1.6 zM67.5 381 l1.6 -1.6 l1.6 1.6 l-1.6 1.6 zM86.1 380.8 l1.6 -1.6 l1.6 1.6 l-1.6 1.6 zM104.7 380.8 l1.6 -1.6 l1.6 1.6 l-1.6 1.6 zM123.3 455.6 l1.6 -1.6 l1.6 1.6 l-1.6 1.6 zM141.9 435.8 l1.6 -1.6 l1.6 1.6 l-1.6 1.6 zM160.5 404 l1.6 -1.6 l1.6 1.6 l-1.6 1.6 zM179.1 386.5 l1.6 -1.6 l1.6 1.6 l-1.6 1.6 zM197.7 389 l1.6 -1.6 l1.6 1.6 l-1.6 1.6 zM216.3 423 l1.6 -1.6 l1.6 1.6 l-1.6 1.6 zM234.9 423 l1.6 -1.6 l1.6 1.6 l-1.6 1.6 z" fill="#5a14a8"/>
<path d="M31.9 411 L50.5 399 L69.1 394.8 L87.7 394.2 L106.3 394 L124.9 455.6 L143.5 441 L162.1 412 L180.7 392 L199.3 386.6 L217.9 438.6 L236.5 438.6" fill="none" stroke="#ffff00" stroke-width="2.0" stroke-linejoin="round" stroke-linecap="round"/>
<text x="16.3" y="482.9" text-anchor="end" class="tk">0</text>
<text x="16.3" y="439" text-anchor="end" class="tk">1</text>
<text x="16.3" y="395.1" text-anchor="end" class="tk">2</text>
<text x="16.3" y="351.2" text-anchor="end" class="tk">3</text>
<text x="252.1" y="482.9" class="tk">1</text>
<text x="252.1" y="450" class="tk">11</text>
<text x="252.1" y="417.1" class="tk">21</text>
<text x="252.1" y="384.1" class="tk">31</text>
<text x="252.1" y="351.2" class="tk">41</text>
<text transform="translate(33.3 490.8) rotate(-45)" text-anchor="end" class="mo">January</text>
<text transform="translate(51.9 490.8) rotate(-45)" text-anchor="end" class="mo">February</text>
<text transform="translate(70.5 490.8) rotate(-45)" text-anchor="end" class="mo">March</text>
<text transform="translate(89.1 490.8) rotate(-45)" text-anchor="end" class="mo">April</text>
<text transform="translate(107.7 490.8) rotate(-45)" text-anchor="end" class="mo">May</text>
<text transform="translate(126.3 490.8) rotate(-45)" text-anchor="end" class="mo">June</text>
<text transform="translate(144.9 490.8) rotate(-45)" text-anchor="end" class="mo">July</text>
<text transform="translate(163.5 490.8) rotate(-45)" text-anchor="end" class="mo">August</text>
<text transform="translate(182.1 490.8) rotate(-45)" text-anchor="end" class="mo">September</text>
<text transform="translate(200.7 490.8) rotate(-45)" text-anchor="end" class="mo">October</text>
<text transform="translate(219.3 490.8) rotate(-45)" text-anchor="end" class="mo">November</text>
<text transform="translate(237.9 490.8) rotate(-45)" text-anchor="end" class="mo">December</text>
<text x="113.6" y="361.6" class="ti">(c) 2076-2100</text>
<text transform="translate(12.91 423.5) rotate(-90)" text-anchor="middle" class="al" style="font-size:5.5px">LAI</text>
<text transform="translate(267.3 422.5) rotate(-90)" text-anchor="middle" class="at">Temperature (°C)</text></g>
<g><rect x="297.21" y="374" width="4" height="107.2" fill="#d6e016"/>
<rect x="301.21" y="392" width="4.9" height="89.2" fill="#f83258"/>
<rect x="306.11" y="393.5" width="3.7" height="87.7" fill="#b96c92"/>
<rect x="315.82" y="376" width="4" height="105.2" fill="#d6e016"/>
<rect x="319.82" y="404" width="4.9" height="77.2" fill="#f83258"/>
<rect x="324.72" y="411.4" width="3.7" height="69.8" fill="#b96c92"/>
<rect x="334.44" y="386" width="4" height="95.2" fill="#d6e016"/>
<rect x="338.44" y="419.8" width="4.9" height="61.4" fill="#f83258"/>
<rect x="343.34" y="431" width="3.7" height="50.2" fill="#b96c92"/>
<rect x="353.06" y="403" width="4" height="78.2" fill="#d6e016"/>
<rect x="357.06" y="431.8" width="4.9" height="49.4" fill="#f83258"/>
<rect x="361.96" y="443" width="3.7" height="38.2" fill="#b96c92"/>
<rect x="371.68" y="418.5" width="4" height="62.7" fill="#d6e016"/>
<rect x="375.68" y="436" width="4.9" height="45.2" fill="#f83258"/>
<rect x="380.57" y="444" width="3.7" height="37.2" fill="#b96c92"/>
<rect x="390.29" y="431.4" width="4" height="49.8" fill="#d6e016"/>
<rect x="394.29" y="431.6" width="4.9" height="49.6" fill="#f83258"/>
<rect x="399.19" y="434" width="3.7" height="47.2" fill="#b96c92"/>
<rect x="408.91" y="432" width="4" height="49.2" fill="#d6e016"/>
<rect x="412.91" y="420" width="4.9" height="61.2" fill="#f83258"/>
<rect x="417.81" y="415" width="3.7" height="66.2" fill="#b96c92"/>
<rect x="427.53" y="426.4" width="4" height="54.8" fill="#d6e016"/>
<rect x="431.53" y="401" width="4.9" height="80.2" fill="#f83258"/>
<rect x="436.43" y="397" width="3.7" height="84.2" fill="#b96c92"/>
<rect x="446.14" y="409.6" width="4" height="71.6" fill="#d6e016"/>
<rect x="450.14" y="388.5" width="4.9" height="92.7" fill="#f83258"/>
<rect x="455.04" y="389" width="3.7" height="92.2" fill="#b96c92"/>
<rect x="464.76" y="393" width="4" height="88.2" fill="#d6e016"/>
<rect x="468.76" y="380" width="4.9" height="101.2" fill="#f83258"/>
<rect x="473.66" y="377" width="3.7" height="104.2" fill="#b96c92"/>
<rect x="483.38" y="380" width="4" height="101.2" fill="#d6e016"/>
<rect x="487.38" y="374.4" width="4.9" height="106.8" fill="#f83258"/>
<rect x="492.28" y="376" width="3.7" height="105.2" fill="#b96c92"/>
<rect x="501.99" y="377" width="4" height="104.2" fill="#d6e016"/>
<rect x="505.99" y="379" width="4.9" height="102.2" fill="#f83258"/>
<rect x="510.89" y="381" width="3.7" height="100.2" fill="#b96c92"/>
<path d="M294.2 349.4 V481.2 H517.6 V349.4" fill="none" stroke="#5c5c5c" stroke-width="0.9"/>
<path d="M294.2 481.1 h1.8M294.2 437.2 h1.8M294.2 393.3 h1.8M294.2 349.4 h1.8M517.6 481.1 h-1.8M517.6 448.2 h-1.8M517.6 415.3 h-1.8M517.6 382.3 h-1.8M517.6 349.4 h-1.8M312.82 481.2 v-1.6M331.43 481.2 v-1.6M350.05 481.2 v-1.6M368.67 481.2 v-1.6M387.28 481.2 v-1.6M405.9 481.2 v-1.6M424.52 481.2 v-1.6M443.13 481.2 v-1.6M461.75 481.2 v-1.6M480.37 481.2 v-1.6M498.98 481.2 v-1.6" fill="none" stroke="#5c5c5c" stroke-width="0.8"/>
<path d="M303.51 386.5 L322.12 392.4 L340.74 392.4 L359.36 397 L377.98 397.6 L396.59 397.4 L415.21 399.6 L433.83 398.6 L452.44 382 L471.06 369 L489.68 372 L508.29 383" fill="none" stroke="#4e8c28" stroke-width="1.5" stroke-linejoin="round" stroke-linecap="round"/>
<path d="M301.81 386.5 l1.7 -1.7 l1.7 1.7 l-1.7 1.7 zM320.43 392.4 l1.7 -1.7 l1.7 1.7 l-1.7 1.7 zM339.04 392.4 l1.7 -1.7 l1.7 1.7 l-1.7 1.7 zM357.66 397 l1.7 -1.7 l1.7 1.7 l-1.7 1.7 zM376.28 397.6 l1.7 -1.7 l1.7 1.7 l-1.7 1.7 zM394.89 397.4 l1.7 -1.7 l1.7 1.7 l-1.7 1.7 zM413.51 399.6 l1.7 -1.7 l1.7 1.7 l-1.7 1.7 zM432.13 398.6 l1.7 -1.7 l1.7 1.7 l-1.7 1.7 zM450.74 382 l1.7 -1.7 l1.7 1.7 l-1.7 1.7 zM469.36 369 l1.7 -1.7 l1.7 1.7 l-1.7 1.7 zM487.98 372 l1.7 -1.7 l1.7 1.7 l-1.7 1.7 zM506.59 383 l1.7 -1.7 l1.7 1.7 l-1.7 1.7 z" fill="#3f7a2c"/>
<path d="M303.51 389 C304.13 388.8 320.88 383.23 322.12 383 C323.37 382.77 339.5 380.52 340.74 382 C341.98 383.48 358.12 425.3 359.36 427.5 C360.6 429.7 376.73 447.04 377.98 448 C379.22 448.96 395.35 456.05 396.59 456.2 C397.83 456.35 413.97 453.04 415.21 452.6 C416.45 452.16 432.58 443.92 433.83 443 C435.07 442.08 451.2 426.3 452.44 425 C453.68 423.7 469.82 405.2 471.06 404 C472.3 402.8 488.43 389.1 489.68 389 C490.92 388.9 507.67 400.6 508.29 401" fill="none" stroke="#f08228" stroke-width="1.7" stroke-linejoin="round" stroke-linecap="round"/>
<path d="M303.51 392 L322.12 382 L340.74 380.6 L359.36 380.6 L377.98 380.6 L396.59 456.2 L415.21 432.6 L433.83 399 L452.44 384.7 L471.06 392 L489.68 424 L508.29 424" fill="none" stroke="#6418b0" stroke-width="1.9" stroke-linejoin="round" stroke-linecap="round"/>
<path d="M301.91 392 l1.6 -1.6 l1.6 1.6 l-1.6 1.6 zM320.52 382 l1.6 -1.6 l1.6 1.6 l-1.6 1.6 zM339.14 380.6 l1.6 -1.6 l1.6 1.6 l-1.6 1.6 zM357.76 380.6 l1.6 -1.6 l1.6 1.6 l-1.6 1.6 zM376.38 380.6 l1.6 -1.6 l1.6 1.6 l-1.6 1.6 zM394.99 456.2 l1.6 -1.6 l1.6 1.6 l-1.6 1.6 zM413.61 432.6 l1.6 -1.6 l1.6 1.6 l-1.6 1.6 zM432.23 399 l1.6 -1.6 l1.6 1.6 l-1.6 1.6 zM450.84 384.7 l1.6 -1.6 l1.6 1.6 l-1.6 1.6 zM469.46 392 l1.6 -1.6 l1.6 1.6 l-1.6 1.6 zM488.08 424 l1.6 -1.6 l1.6 1.6 l-1.6 1.6 zM506.69 424 l1.6 -1.6 l1.6 1.6 l-1.6 1.6 z" fill="#5a14a8"/>
<path d="M303.51 404 L322.12 389 L340.74 386 L359.36 385 L377.98 385 L396.59 456.2 L415.21 435 L433.83 405 L452.44 387.8 L471.06 389 L489.68 437 L508.29 437" fill="none" stroke="#ffff00" stroke-width="2.0" stroke-linejoin="round" stroke-linecap="round"/>
<text x="287.9" y="482.9" text-anchor="end" class="tk">0</text>
<text x="287.9" y="439" text-anchor="end" class="tk">1</text>
<text x="287.9" y="395.1" text-anchor="end" class="tk">2</text>
<text x="287.9" y="351.2" text-anchor="end" class="tk">3</text>
<text x="523.9" y="482.9" class="tk">1</text>
<text x="523.9" y="450" class="tk">11</text>
<text x="523.9" y="417.1" class="tk">21</text>
<text x="523.9" y="384.1" class="tk">31</text>
<text x="523.9" y="351.2" class="tk">41</text>
<text transform="translate(304.91 491) rotate(-45)" text-anchor="end" class="mo">January</text>
<text transform="translate(323.52 491) rotate(-45)" text-anchor="end" class="mo">February</text>
<text transform="translate(342.14 491) rotate(-45)" text-anchor="end" class="mo">March</text>
<text transform="translate(360.76 491) rotate(-45)" text-anchor="end" class="mo">April</text>
<text transform="translate(379.38 491) rotate(-45)" text-anchor="end" class="mo">May</text>
<text transform="translate(397.99 491) rotate(-45)" text-anchor="end" class="mo">June</text>
<text transform="translate(416.61 491) rotate(-45)" text-anchor="end" class="mo">July</text>
<text transform="translate(435.23 491) rotate(-45)" text-anchor="end" class="mo">August</text>
<text transform="translate(453.84 491) rotate(-45)" text-anchor="end" class="mo">September</text>
<text transform="translate(472.46 491) rotate(-45)" text-anchor="end" class="mo">October</text>
<text transform="translate(491.08 491) rotate(-45)" text-anchor="end" class="mo">November</text>
<text transform="translate(509.69 491) rotate(-45)" text-anchor="end" class="mo">December</text>
<text x="375" y="362.2" class="ti">(f) 2076-2100</text>
<text transform="translate(277.28 420.2) rotate(-90)" text-anchor="middle" class="al" style="font-size:6.3px">LAI</text>
<text transform="translate(542.3 421.5) rotate(-90)" text-anchor="middle" class="at">Temperature (°C)</text></g>
<g><path d="M30 13.6 h18" stroke="#d6e016" stroke-width="3.2" fill="none"/>
<text x="50" y="15.6" class="lg">ACCESS_TMP</text>
<path d="M30 24.4 h18" stroke="#b96c92" stroke-width="3.2" fill="none"/>
<text x="50" y="26.4" class="lg">MK3_TMP</text>
<path d="M30 35 h18" stroke="#f08228" stroke-width="1.4" fill="none"/>
<text x="50" y="37" class="lg">ACCESS_LAI</text>
<path d="M30 46.4 h18" stroke="#ffff00" stroke-width="1.4" fill="none"/>
<text x="50" y="48.4" class="lg">MK3_LAI</text>
<path d="M125 13.6 h18" stroke="#f83258" stroke-width="3.2" fill="none"/>
<text x="145.6" y="15.6" class="lg">MIROC_TMP</text>
<path d="M125 24.4 h18" stroke="#4e8c28" stroke-width="1.4" fill="none"/>
<text x="145.6" y="26.4" class="lg2">MODIS (2001-2020)</text>
<path d="M125 35 h18" stroke="#6418b0" stroke-width="1.4" fill="none"/>
<text x="145.6" y="37" class="lg">MIROC_LAI</text>
<text x="213.6" y="17.2" class="rcp">RCP 4.5</text></g>
<g><path d="M303 12.4 h18" stroke="#d6e016" stroke-width="3.2" fill="none"/>
<text x="323.6" y="14.4" class="lg">ACCESS_TMP</text>
<path d="M303 23.6 h18" stroke="#b96c92" stroke-width="3.2" fill="none"/>
<text x="323.6" y="25.6" class="lg">MK3_TMP</text>
<path d="M303 34.4 h18" stroke="#f08228" stroke-width="1.4" fill="none"/>
<text x="323.6" y="36.4" class="lg">ACCESS_LAI</text>
<path d="M303 45.6 h18" stroke="#ffff00" stroke-width="1.4" fill="none"/>
<text x="323.6" y="47.6" class="lg">MK3_LAI</text>
<path d="M396 12.4 h18" stroke="#f83258" stroke-width="3.2" fill="none"/>
<text x="416.6" y="14.4" class="lg">MIROC_TMP</text>
<path d="M396 23.6 h18" stroke="#4e8c28" stroke-width="1.4" fill="none"/>
<text x="416.6" y="25.6" class="lg2">MODIS (2001-2020)</text>
<path d="M396 34.4 h18" stroke="#6418b0" stroke-width="1.4" fill="none"/>
<text x="416.6" y="36.4" class="lg">MIROC_LAI</text>
<text x="485.6" y="17.2" class="rcp">RCP 8.5</text></g>
<text x="113.6" y="512" class="tm">Time (Month)</text>
<text x="386" y="511.8" class="tm" style="font-size:7.2px">Time (Month)</text>
</svg>
</body></html>
